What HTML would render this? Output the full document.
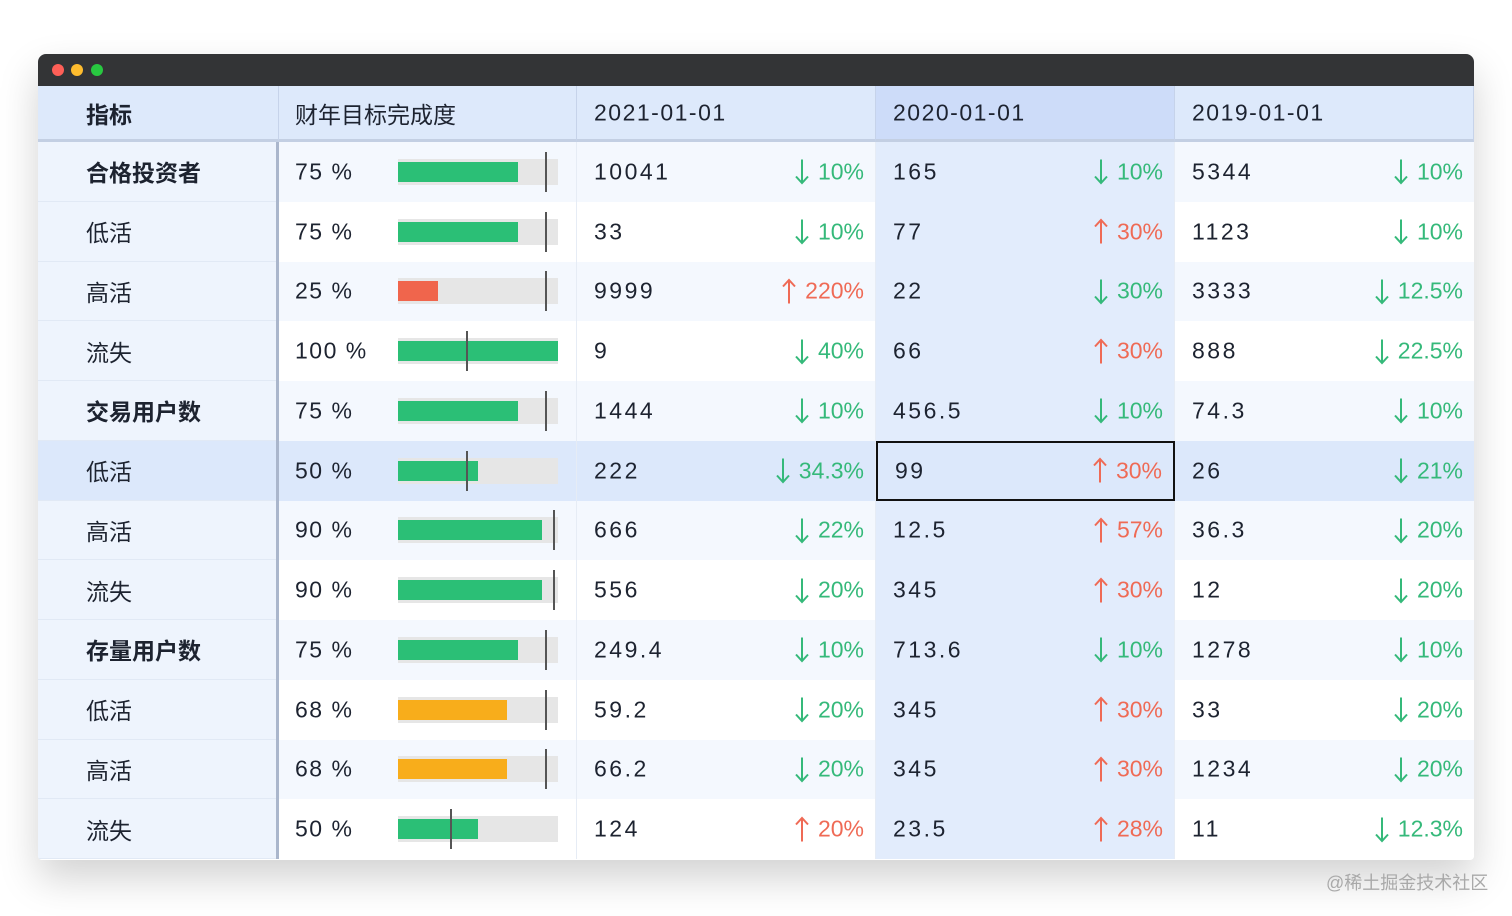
<!DOCTYPE html>
<html><head><meta charset="utf-8"><style>
body{margin:0;width:1512px;height:916px;background:#fff;overflow:hidden;position:relative;font-family:"Liberation Sans","Noto Sans CJK SC",sans-serif;}
#win{position:absolute;left:38px;top:54px;width:1436px;height:806px;border-radius:8px 8px 4px 4px;overflow:hidden;box-shadow:0 18px 40px rgba(0,0,0,0.18);background:#fff}
#bar{position:absolute;left:0;top:0;width:1436px;height:32px;background:#333436}
.dot{position:absolute;top:10px;width:12px;height:12px;border-radius:50%}
.c{position:absolute;box-sizing:border-box;font-size:23px;color:#1d2330;white-space:nowrap}
.t{position:absolute;font-size:23px;white-space:nowrap;display:flex;align-items:center}
#wm{position:absolute;left:1326px;top:869px;font-size:18px;color:#a9a9a9}
</style></head><body>
<div id="win">
<div id="bar">
<div class="dot" style="left:14px;background:#fe5f57"></div>
<div class="dot" style="left:33px;background:#febc2e"></div>
<div class="dot" style="left:53px;background:#28c840"></div>
</div>
<div id="grid"></div>
</div>
<div id="wm">@稀土掘金技术社区</div>
<script>
const labels=["合格投资者","低活","高活","流失","交易用户数","低活","高活","流失","存量用户数","低活","高活","流失"];
const bold=[1,0,0,0,1,0,0,0,1,0,0,0];
const progress=[75,75,25,100,75,50,90,90,75,68,68,50];
const targets=[92,92,92,42.5,92,42.5,97,97,92,92,92,32.5];
const headers=["指标","财年目标完成度","2021-01-01","2020-01-01","2019-01-01"];
const v2021=["10041","33","9999","9","1444","222","666","556","249.4","59.2","66.2","124"];
const c2021=[-10,-10,220,-40,-10,-34.3,-22,-20,-10,-20,-20,20];
const v2020=["165","77","22","66","456.5","99","12.5","345","713.6","345","345","23.5"];
const c2020=[-10,30,-30,30,-10,30,57,30,-10,30,30,28];
const v2019=["5344","1123","3333","888","74.3","26","36.3","12","1278","33","1234","11"];
const c2019=[-10,-10,-12.5,-22.5,-10,-21,-20,-20,-10,-20,-20,-12.3];
const g=document.getElementById('grid');
const colX=[0,241,539,838,1137,1436];
const headH=56, top0=32, rowH=59.75;
function box(x,y,w,h,bg,extra){const d=document.createElement('div');d.className='c';d.style.left=x+'px';d.style.top=y+'px';d.style.width=w+'px';d.style.height=h+'px';if(bg)d.style.background=bg;if(extra)d.style.cssText+=extra;g.appendChild(d);return d;}
function txt(parent,x,s,color,right,fw,ls){const t=document.createElement('div');t.className='t';t.innerHTML=s;t.style.color=color||'#1d2330';t.style.top='50%';t.style.transform='translateY(-50%)';if(right)t.style.right=x+'px';else t.style.left=x+'px';if(fw)t.style.fontWeight='bold';if(ls)t.style.letterSpacing=ls;parent.appendChild(t);return t;}
function arrow(up,color){return '<svg width="14" height="26" viewBox="0 0 14 26" style="margin-right:9px"><path d="'+(up?'M7 25V2M1 8L7 1.5L13 8':'M7 1V24M1 18L7 24.5L13 18')+'" stroke="'+color+'" stroke-width="2" fill="none"/></svg>';}
headers.forEach((h,i)=>{const d=box(colX[i],top0,colX[i+1]-colX[i],headH,i==3?'#cddcf9':'#dde9fb','border-right:1px solid #c6d3ea;border-bottom:3px solid #c3cfe3;');


txt(d,i==0?48:(i==1?16:17),h,'#1d2330',false,i==0,i>=2?'1.5px':'0');});
const rowBg=i=>i%2==0?'#f4f8fe':'#ffffff';
labels.forEach((lab,r)=>{
 const y=top0+headH+r*rowH; const hl=r==5;
 const d0=box(0,y,241,rowH,'#eef4fd','border-bottom:1px solid #e1e9f5;');
 
 
 if(hl)d0.style.background='#dce8fb';
 txt(d0,48,lab,'#1d2330',false,bold[r]);
 box(238,y,3,rowH,'#aab6cc');
 const d1=box(241,y,298,rowH,hl?'#dce8fb':rowBg(r),'border-right:1px solid #e6ecf5;');
 
 
 txt(d1,16,progress[r]+' %','#1d2330',false,0,'1.5px');
 const tw=160,tx=119;
 const tr=document.createElement('div');tr.style.cssText='position:absolute;left:'+tx+'px;top:'+(rowH/2-13)+'px;width:'+tw+'px;height:26px;background:#e6e6e6';
 
 
 d1.appendChild(tr);
 const p=progress[r];const col=p<40?'#f0654c':((p>=60&&p<70)?'#f8ad1b':'#2bbf76');
 const b=document.createElement('div');b.style.cssText='position:absolute;left:'+tx+'px;top:'+(rowH/2-10)+'px;height:20px;width:'+(tw*p/100)+'px;background:'+col;
 
 
 d1.appendChild(b);
 const m=document.createElement('div');m.style.cssText='position:absolute;left:'+(tx+tw*targets[r]/100)+'px;top:'+(rowH/2-20)+'px;height:40px;width:1.5px;background:#555';
 
 
 d1.appendChild(m);
 [[v2021,c2021],[v2020,c2020],[v2019,c2019]].forEach((vc,k)=>{
  const ci=k+2; let bg=hl?'#dce8fb':rowBg(r); if(ci==3&&!hl)bg='#e2ecfc';
  const d=box(colX[ci],y,colX[ci+1]-colX[ci],rowH,bg,ci<4?'border-right:1px solid #e6ecf5;':'');
  
  
  if(hl&&ci==3){d.style.border='2px solid #111';}
  txt(d,17,vc[0][r],'#1d2330',false,0,'2.5px');
  const ch=vc[1][r];const up=ch>0;const c=up?'#ef6a55':'#35b97a';
  txt(d,11,arrow(up,c)+Math.abs(ch)+'%',c,true);
 });
});
</script>
</body></html>
